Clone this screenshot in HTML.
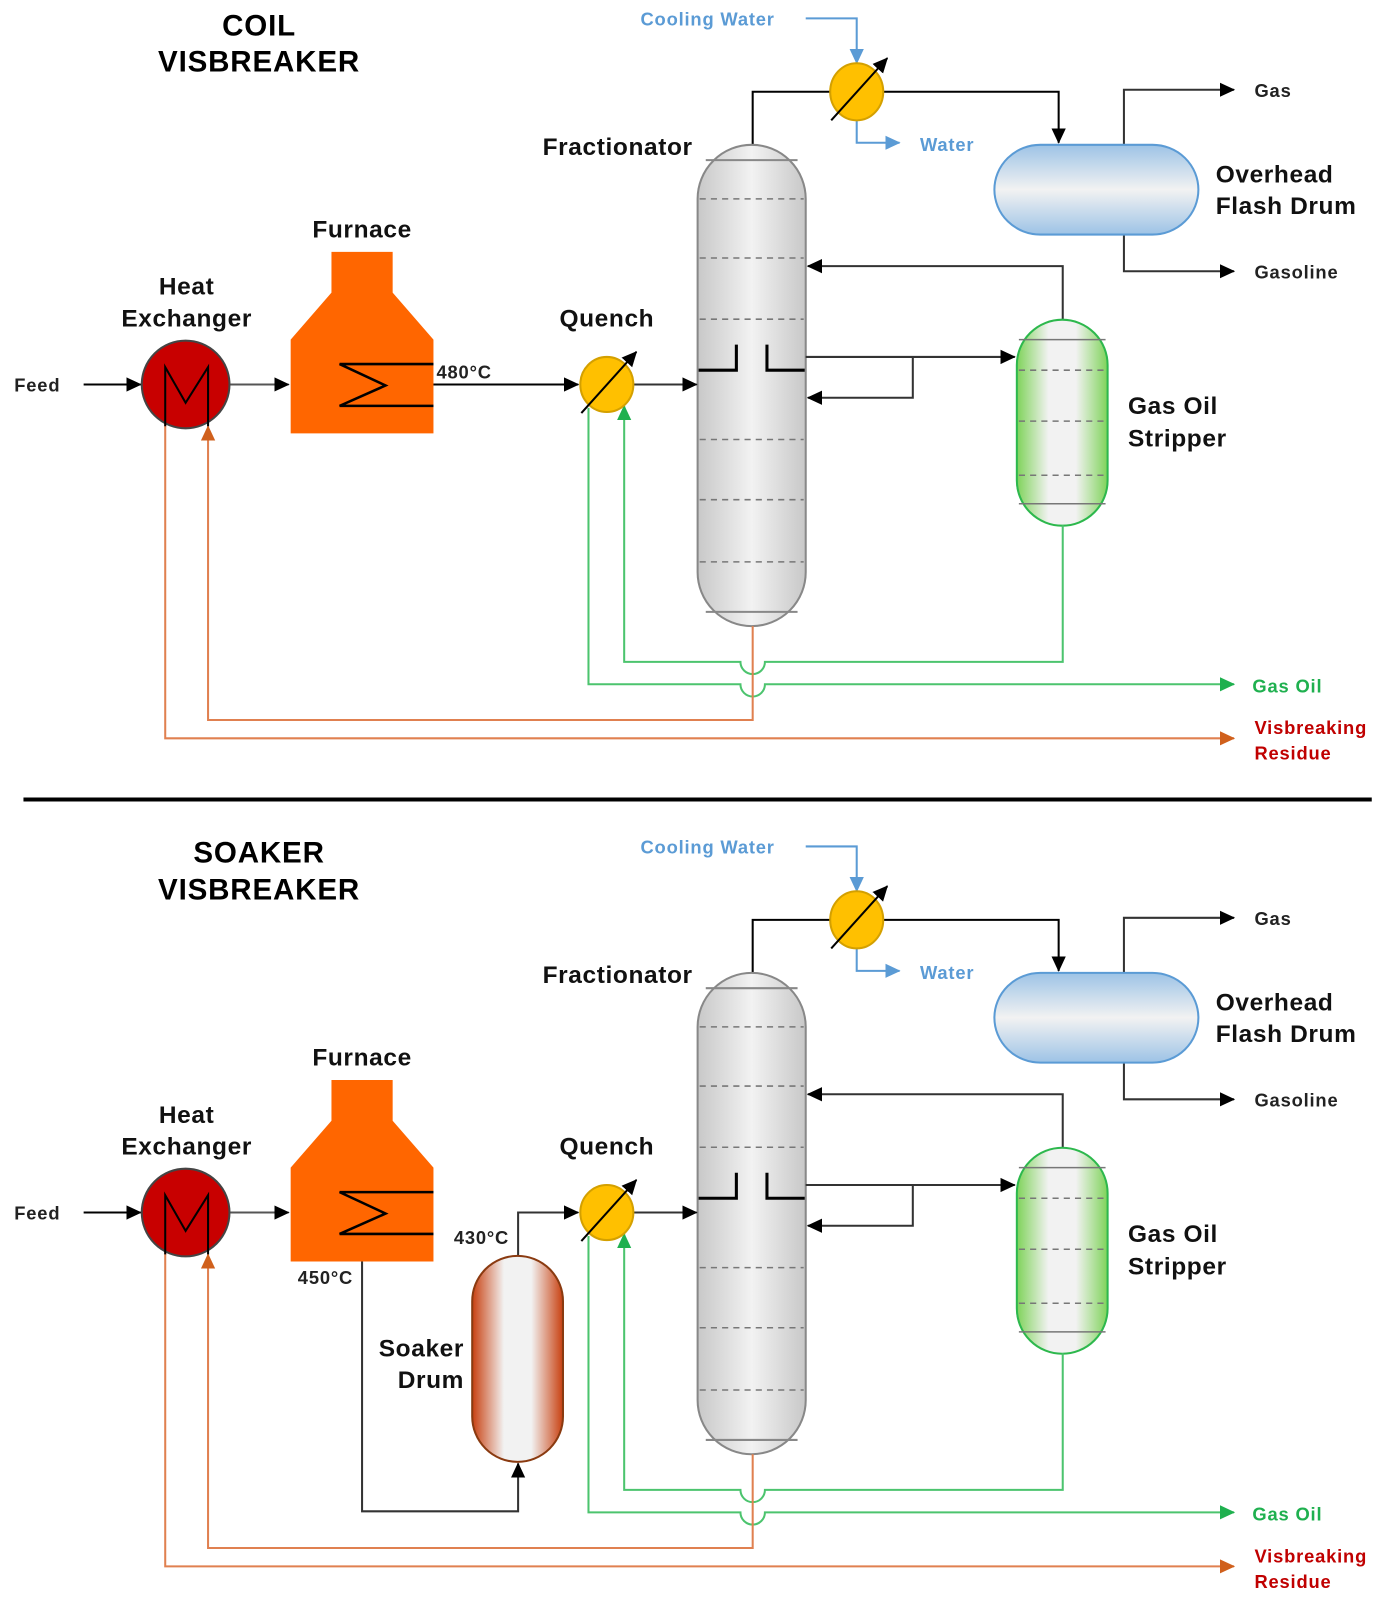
<!DOCTYPE html>
<html><head><meta charset="utf-8"><style>
html,body{margin:0;padding:0;background:#fff;}
svg{display:block;}
text{font-family:"Liberation Sans",sans-serif;font-weight:bold;}
.s{letter-spacing:0.8px;}
.m{letter-spacing:0.6px;}
</style></head><body>
<svg width="1384" height="1598" viewBox="0 0 1357 1567" preserveAspectRatio="none" xmlns="http://www.w3.org/2000/svg">
<defs>
<marker id="ak" markerUnits="userSpaceOnUse" markerWidth="16" markerHeight="16" refX="14" refY="8" orient="auto"><path d="M0,1 L15,8 L0,15 z" fill="#000"/></marker>
<marker id="ab" markerUnits="userSpaceOnUse" markerWidth="16" markerHeight="16" refX="14" refY="8" orient="auto"><path d="M0,1 L15,8 L0,15 z" fill="#5b9bd5"/></marker>
<marker id="ag" markerUnits="userSpaceOnUse" markerWidth="16" markerHeight="16" refX="14" refY="8" orient="auto"><path d="M0,1 L15,8 L0,15 z" fill="#1fb04f"/></marker>
<marker id="ao" markerUnits="userSpaceOnUse" markerWidth="16" markerHeight="16" refX="14" refY="8" orient="auto"><path d="M0,1 L15,8 L0,15 z" fill="#d0601c"/></marker>
<linearGradient id="gcol" x1="0" x2="1" y1="0" y2="0"><stop offset="0" stop-color="#c8c8c8"/><stop offset="0.5" stop-color="#f2f2f2"/><stop offset="1" stop-color="#c8c8c8"/></linearGradient>
<linearGradient id="gblue" x1="0" x2="0" y1="0" y2="1"><stop offset="0" stop-color="#9dc3e6"/><stop offset="0.5" stop-color="#f2f2f2"/><stop offset="1" stop-color="#9dc3e6"/></linearGradient>
<linearGradient id="ggreen" x1="0" x2="1" y1="0" y2="0"><stop offset="0" stop-color="#7fd35a"/><stop offset="0.35" stop-color="#f2f2f2"/><stop offset="0.65" stop-color="#f2f2f2"/><stop offset="1" stop-color="#7fd35a"/></linearGradient>
<linearGradient id="gred" x1="0" x2="1" y1="0" y2="0"><stop offset="0" stop-color="#c84010"/><stop offset="0.35" stop-color="#f2f2f2"/><stop offset="0.65" stop-color="#f2f2f2"/><stop offset="1" stop-color="#c84010"/></linearGradient>
</defs>

<g id="common">
<text x="628" y="25" font-size="18" fill="#5b9bd5" class="s">Cooling Water</text>
<path d="M790,18 H840 V62" fill="none" stroke="#5b9bd5" stroke-width="2" marker-end="url(#ab)"/>
<path d="M840,116 V140 H882" fill="none" stroke="#5b9bd5" stroke-width="2" marker-end="url(#ab)"/>
<text x="902" y="148" font-size="18" fill="#5b9bd5" class="s">Water</text>
<path d="M738,142 V90 H814" fill="none" stroke="#000" stroke-width="2"/>
<path d="M866,90 H1038 V140" fill="none" stroke="#000" stroke-width="2" marker-end="url(#ak)"/>
<ellipse cx="840" cy="90" rx="26" ry="28" fill="#ffc000" stroke="#d4a000" stroke-width="2"/>
<line x1="815" y1="118" x2="870" y2="57" stroke="#000" stroke-width="2" marker-end="url(#ak)"/>
<path d="M1102,142 V88 H1210" fill="none" stroke="#333" stroke-width="2" marker-end="url(#ak)"/>
<path d="M1102,230 V266 H1210" fill="none" stroke="#333" stroke-width="2" marker-end="url(#ak)"/>
<rect x="975" y="142" width="200" height="88" rx="45" ry="44" fill="url(#gblue)" stroke="#5b9bd5" stroke-width="2"/>
<text x="1230" y="95" font-size="18" fill="#222" class="s">Gas</text>
<text x="1230" y="273" font-size="18" fill="#222" class="s">Gasoline</text>
<text x="1192" y="179" font-size="24" fill="#111" class="m">Overhead</text>
<text x="1192" y="210" font-size="24" fill="#111" class="m">Flash Drum</text>
<text x="532" y="152" font-size="24" fill="#111" class="m">Fractionator</text>
<path d="M684,195 A53,53 0 0 1 790,195 V561 A53,53 0 0 1 684,561 Z" fill="url(#gcol)" stroke="#888" stroke-width="2"/>
<line x1="692" y1="157" x2="782" y2="157" stroke="#888" stroke-width="2"/>
<line x1="692" y1="600" x2="782" y2="600" stroke="#888" stroke-width="2"/>
<g stroke="#777" stroke-width="1.5" stroke-dasharray="6,5">
<line x1="686" y1="195" x2="788" y2="195"/><line x1="686" y1="253" x2="788" y2="253"/><line x1="686" y1="313" x2="788" y2="313"/>
<line x1="686" y1="431" x2="788" y2="431"/><line x1="686" y1="490" x2="788" y2="490"/><line x1="686" y1="551" x2="788" y2="551"/>
</g>
<path d="M685,363 H722 V338" fill="none" stroke="#000" stroke-width="3"/>
<path d="M752,338 V363 H789" fill="none" stroke="#000" stroke-width="3"/>
<path d="M1042,314 V261 H792" fill="none" stroke="#333" stroke-width="2" marker-end="url(#ak)"/>
<path d="M790,350 H995" fill="none" stroke="#333" stroke-width="2" marker-end="url(#ak)"/>
<path d="M895,350 V390 H792" fill="none" stroke="#333" stroke-width="2" marker-end="url(#ak)"/>
<path d="M997,358 A44,44 0 0 1 1086,358 V471 A44,44 0 0 1 997,471 Z" fill="url(#ggreen)" stroke="#2db84d" stroke-width="2"/>
<line x1="999" y1="333" x2="1084" y2="333" stroke="#777" stroke-width="1.5"/>
<line x1="999" y1="494" x2="1084" y2="494" stroke="#777" stroke-width="1.5"/>
<g stroke="#777" stroke-width="1.5" stroke-dasharray="6,5">
<line x1="999" y1="363" x2="1084" y2="363"/><line x1="999" y1="413" x2="1084" y2="413"/><line x1="999" y1="466" x2="1084" y2="466"/>
</g>
<text x="1106" y="406" font-size="24" fill="#111" class="m">Gas Oil</text>
<text x="1106" y="438" font-size="24" fill="#111" class="m">Stripper</text>
<path d="M1042,515 V649 H750 A12,12 0 0 1 726,649 H612 V398" fill="none" stroke="#4cc46e" stroke-width="2" marker-end="url(#ag)"/>
<path d="M577,400 V671 H726 A12,12 0 0 0 750,671 H1210" fill="none" stroke="#4cc46e" stroke-width="2" marker-end="url(#ag)"/>
<text x="1228" y="679" font-size="18" fill="#1fb04f" class="s">Gas Oil</text>
<path d="M738,614 V706 H204 V418" fill="none" stroke="#e08050" stroke-width="2" marker-end="url(#ao)"/>
<path d="M162,410 V724 H1210" fill="none" stroke="#e08050" stroke-width="2" marker-end="url(#ao)"/>
<text x="1230" y="720" font-size="18" fill="#c00000" class="s">Visbreaking</text>
<text x="1230" y="745" font-size="18" fill="#c00000" class="s">Residue</text>
<text x="14" y="384" font-size="18" fill="#222" class="s">Feed</text>
<line x1="82" y1="377" x2="138" y2="377" stroke="#000" stroke-width="2" marker-end="url(#ak)"/>
<circle cx="182" cy="377" r="43" fill="#c80000" stroke="#444" stroke-width="2"/>
<path d="M162,418 V360 L182,395 L204,360 V418" fill="none" stroke="#000" stroke-width="2"/>
<line x1="226" y1="377" x2="283" y2="377" stroke="#555" stroke-width="2" marker-end="url(#ak)"/>
<text x="183" y="289" font-size="24" fill="#111" text-anchor="middle" class="m">Heat</text>
<text x="183" y="320" font-size="24" fill="#111" text-anchor="middle" class="m">Exchanger</text>
<path d="M325,247 H385 V287 L425,333 V425 H285 V333 L325,287 Z" fill="#ff6600"/>
<path d="M425,357 H333 L378,378 L333,398 H425" fill="none" stroke="#000" stroke-width="2.5"/>
<text x="355" y="233" font-size="24" fill="#111" text-anchor="middle" class="m">Furnace</text>
<line x1="621" y1="377" x2="683" y2="377" stroke="#333" stroke-width="2" marker-end="url(#ak)"/>
<ellipse cx="595" cy="377" rx="26" ry="27" fill="#ffc000" stroke="#d4a000" stroke-width="2"/>
<line x1="570" y1="405" x2="624" y2="345" stroke="#000" stroke-width="2" marker-end="url(#ak)"/>
<text x="595" y="320" font-size="24" fill="#111" text-anchor="middle" class="m">Quench</text>
</g>

<text x="254" y="35" font-size="29" fill="#000" text-anchor="middle" class="s">COIL</text>
<text x="254" y="70" font-size="29" fill="#000" text-anchor="middle" class="s">VISBREAKER</text>
<text x="428" y="371" font-size="18" fill="#222" class="s">480°C</text>
<line x1="425" y1="377" x2="567" y2="377" stroke="#000" stroke-width="2" marker-end="url(#ak)"/>

<line x1="23" y1="784" x2="1345" y2="784" stroke="#000" stroke-width="4"/>

<use href="#common" transform="translate(0,812)"/>
<text x="254" y="846" font-size="29" fill="#000" text-anchor="middle" class="s">SOAKER</text>
<text x="254" y="882" font-size="29" fill="#000" text-anchor="middle" class="s">VISBREAKER</text>
<path d="M355,1237 V1482 H508 V1435" fill="none" stroke="#333" stroke-width="2" marker-end="url(#ak)"/>
<path d="M508,1232 V1189 H567" fill="none" stroke="#333" stroke-width="2" marker-end="url(#ak)"/>
<path d="M463,1276 A44.5,44.5 0 0 1 552,1276 V1389 A44.5,44.5 0 0 1 463,1389 Z" fill="url(#gred)" stroke="#8a3a10" stroke-width="2"/>
<text x="292" y="1259" font-size="18" fill="#222" class="s">450°C</text>
<text x="445" y="1220" font-size="18" fill="#222" class="s">430°C</text>
<text x="455" y="1330" font-size="24" fill="#111" text-anchor="end" class="m">Soaker</text>
<text x="455" y="1361" font-size="24" fill="#111" text-anchor="end" class="m">Drum</text>
</svg>
</body></html>
